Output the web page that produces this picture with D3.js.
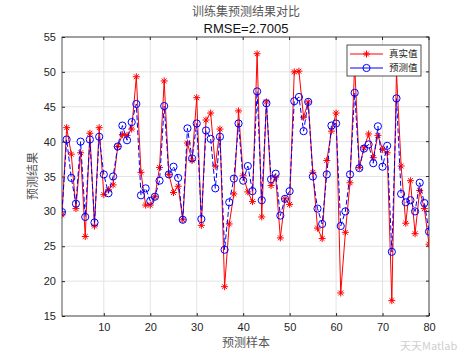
<!DOCTYPE html>
<html><head><meta charset="utf-8">
<script src="https://cdn.jsdelivr.net/npm/d3@7"></script>
<style>body{margin:0;background:#fff}svg{display:block}</style>
</head><body>
<script>
const actual = [29.5,42.0,38.2,30.4,38.4,26.4,41.2,27.9,42.0,32.4,33.1,33.8,39.3,41.0,40.9,41.8,49.3,35.6,30.9,30.9,
32.1,36.3,48.7,35.3,32.7,33.6,28.8,39.8,37.3,46.3,28.0,43.1,44.1,36.5,41.8,19.2,28.2,32.5,44.4,35.1,
32.8,31.4,52.6,29.2,45.7,33.7,34.9,26.2,31.8,31.0,50.0,50.1,43.5,45.7,35.6,27.6,26.1,37.3,41.5,44.1,
18.3,27.0,34.1,51.0,36.3,39.1,41.1,37.7,40.9,38.9,38.4,17.2,50.0,36.5,28.3,34.4,26.8,33.0,30.4,25.3];
const predicted = [29.9,40.3,34.8,31.1,40.0,29.2,40.3,28.4,40.7,35.3,32.6,35.0,39.3,42.3,40.2,42.8,45.4,32.3,33.3,31.5,
32.1,34.4,45.1,35.3,36.4,34.8,28.8,41.9,37.6,42.6,28.9,41.6,40.4,33.3,40.7,24.5,31.3,34.7,42.6,34.4,
36.5,32.9,47.2,31.6,45.5,34.6,35.4,29.4,31.8,32.9,45.8,46.4,41.5,45.7,35.0,30.4,28.2,35.3,42.3,42.6,
27.9,30.0,35.3,47.0,36.2,39.0,39.6,36.9,42.2,36.4,39.4,24.2,46.2,32.5,31.3,31.6,30.0,34.1,31.2,27.1];
const xTicks = [10,20,30,40,50,60,70,80];
const yTicks = [15,20,25,30,35,40,45,50,55];
const seriesNames = ["真实值","预测值"];
const titleText = "训练集预测结果对比";
const subtitleText = "RMSE=2.7005";
const xLabel = "预测样本";
const yLabel = "预测结果";

const W=474,H=355;
const L=62,R=429,T=37,B=316;
const svg=d3.select("body").append("svg").attr("width",W).attr("height",H);
const x=d3.scaleLinear().domain([1,80]).range([L,R]);
const y=d3.scaleLinear().domain([15,55]).range([B,T]);
const axisColor="#262626";
const numFont="'Liberation Sans', Arial, sans-serif";
const cjkFont="'Noto Sans CJK SC', sans-serif";

// grid
svg.append("g").selectAll("line").data(xTicks).join("line")
  .attr("x1",d=>x(d)).attr("x2",d=>x(d)).attr("y1",T).attr("y2",B)
  .attr("stroke","#e3e3e3").attr("stroke-width",1);
svg.append("g").selectAll("line").data(yTicks).join("line")
  .attr("x1",L).attr("x2",R).attr("y1",d=>y(d)).attr("y2",d=>y(d))
  .attr("stroke","#e3e3e3").attr("stroke-width",1);

// axes
const xa=svg.append("g").attr("transform",`translate(0,${B})`)
  .call(d3.axisBottom(x).tickValues(xTicks).tickSize(-3).tickPadding(7));
const ya=svg.append("g").attr("transform",`translate(${L},0)`)
  .call(d3.axisLeft(y).tickValues(yTicks).tickSize(-3).tickPadding(6));
[xa,ya].forEach(a=>{
  a.select(".domain").remove();
  a.selectAll("line").attr("stroke",axisColor);
  a.selectAll("text").attr("fill",axisColor).style("font-family",numFont).style("font-size","11px");
});
// top/right ticks
svg.append("g").selectAll("line").data(xTicks).join("line")
  .attr("x1",d=>x(d)).attr("x2",d=>x(d)).attr("y1",T).attr("y2",T+3).attr("stroke",axisColor);
svg.append("g").selectAll("line").data(yTicks).join("line")
  .attr("x1",R).attr("x2",R-3).attr("y1",d=>y(d)).attr("y2",d=>y(d)).attr("stroke",axisColor);
svg.append("rect").attr("x",L).attr("y",T).attr("width",R-L).attr("height",B-T)
  .attr("fill","none").attr("stroke",axisColor).attr("stroke-width",0.8);

const clip=svg.append("clipPath").attr("id","clip").append("rect")
  .attr("x",L).attr("y",T).attr("width",R-L).attr("height",B-T);
const plot=svg.append("g").attr("clip-path","url(#clip)");

const line=d3.line().x((d,i)=>x(i+1)).y(d=>y(d));
const starPath=(s)=>{const a=s*0.7;return `M${-s},0L${s},0M0,${-s}L0,${s}M${-a},${-a}L${a},${a}M${-a},${a}L${a},${-a}`;};

// red actual
plot.append("path").datum(actual).attr("d",line).attr("fill","none").attr("stroke","#ff0000").attr("stroke-width",1);
plot.append("g").selectAll("path").data(actual).join("path")
  .attr("transform",(d,i)=>`translate(${x(i+1)},${y(d)})`)
  .attr("d",starPath(3.5)).attr("stroke","#ff0000").attr("stroke-width",1).attr("fill","none");
// blue predicted
plot.append("path").datum(predicted).attr("d",line).attr("fill","none").attr("stroke","#0000ff")
  .attr("stroke-width",1).attr("stroke-dasharray","5,2.5");
plot.append("g").selectAll("circle").data(predicted).join("circle")
  .attr("cx",(d,i)=>x(i+1)).attr("cy",d=>y(d)).attr("r",3.6)
  .attr("fill","none").attr("stroke","#0000ff").attr("stroke-width",1);

// legend
const lg=svg.append("g");
lg.append("rect").attr("x",347).attr("y",45).attr("width",74).attr("height",31)
  .attr("fill","#fff").attr("stroke",axisColor).attr("stroke-width",0.8);
const rows=[{name:seriesNames[0],c:"#ff0000",m:"star",yy:54},{name:seriesNames[1],c:"#0000ff",m:"circle",yy:68}];
rows.forEach(r=>{
  lg.append("line").attr("x1",350).attr("x2",383).attr("y1",r.yy).attr("y2",r.yy).attr("stroke",r.c).attr("stroke-width",1);
  if(r.m==="star") lg.append("path").attr("transform",`translate(366.5,${r.yy})`).attr("d",starPath(3.5)).attr("stroke",r.c).attr("fill","none");
  else lg.append("circle").attr("cx",366.5).attr("cy",r.yy).attr("r",3.6).attr("stroke",r.c).attr("fill","none");
  lg.append("text").attr("x",389).attr("y",r.yy).attr("dy","0.35em").text(r.name)
    .style("font-family",cjkFont).style("font-size","9.5px").attr("fill",axisColor);
});

// titles
svg.append("text").attr("x",246).attr("y",12).attr("text-anchor","middle").attr("dy","0.35em")
  .text(titleText).style("font-family",cjkFont).style("font-size","12px").attr("fill","#555");
svg.append("text").attr("x",246).attr("y",28).attr("text-anchor","middle").attr("dy","0.35em")
  .text(subtitleText).style("font-family",numFont).style("font-size","13px").attr("fill","#111");
svg.append("text").attr("x",246).attr("y",343).attr("text-anchor","middle").attr("dy","0.35em")
  .text(xLabel).style("font-family",cjkFont).style("font-size","12px").attr("fill","#555");
svg.append("text").attr("transform",`translate(33,176) rotate(-90)`).attr("text-anchor","middle").attr("dy","0.35em")
  .text(yLabel).style("font-family",cjkFont).style("font-size","12px").attr("fill","#555");
// watermark
svg.append("text").attr("x",400).attr("y",346).attr("dy","0.35em")
  .text("天天Matlab").style("font-family",cjkFont).style("font-size","11px").attr("fill","#cfcfcf");
</script>
</body></html>
